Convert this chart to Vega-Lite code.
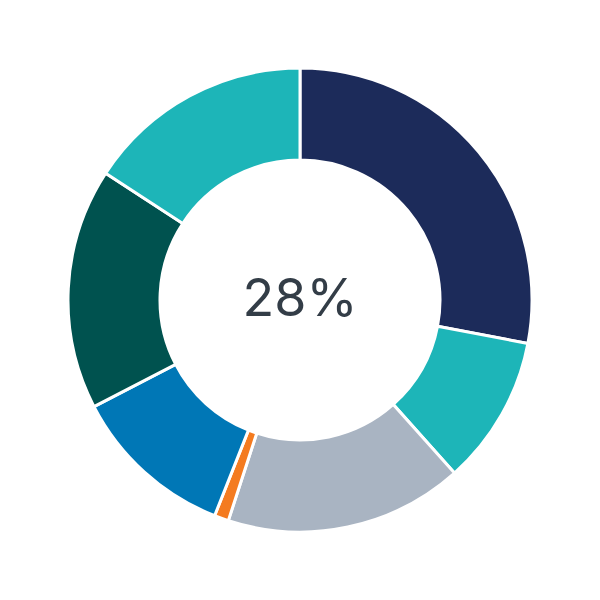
{
  "$schema": "https://vega.github.io/schema/vega-lite/v6.json",
  "width": 600,
  "height": 600,
  "autosize": {"type": "fit", "contains": "padding"},
  "padding": 0,
  "background": "white",
  "view": {"stroke": null},
  "data": {
    "values": [
      {"segment": "A", "value": 28.0, "order": 1},
      {"segment": "B", "value": 10.4, "order": 2},
      {"segment": "C", "value": 16.6, "order": 3},
      {"segment": "D", "value": 1.0, "order": 4},
      {"segment": "E", "value": 11.4, "order": 5},
      {"segment": "F", "value": 16.8, "order": 6},
      {"segment": "G", "value": 15.8, "order": 7}
    ]
  },
  "layer": [
    {
      "mark": {"type": "arc", "radius": 232, "radius2": 140, "stroke": "white", "strokeWidth": 3},
      "encoding": {
        "theta": {"field": "value", "type": "quantitative", "stack": true},
        "order": {"field": "order", "type": "quantitative"},
        "color": {
          "field": "segment",
          "type": "nominal",
          "legend": null,
          "scale": {
            "domain": ["A", "B", "C", "D", "E", "F", "G"],
            "range": ["#1c2b5a", "#1db5b8", "#a9b4c2", "#f47b20", "#0077b6", "#00524f", "#1db5b8"]
          }
        }
      }
    },
    {
      "data": {"values": [{"label": "28%"}]},
      "mark": {"type": "text", "font": "Inter", "fontSize": 52, "fontWeight": 400, "color": "#333d47", "baseline": "middle", "align": "center"},
      "encoding": {"text": {"field": "label"}}
    }
  ]
}
